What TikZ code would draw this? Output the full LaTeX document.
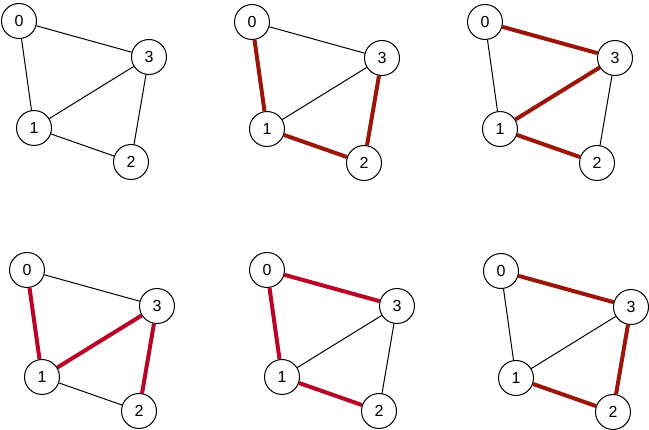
\documentclass[tikz,border=0pt]{standalone}
\usepackage{fontspec}
\setmainfont{Liberation Sans}
\usepackage{tikz}
\usetikzlibrary{positioning,calc}
\definecolor{pathred}{RGB}{155,22,8}
\definecolor{pathcrimson}{RGB}{185,4,38}
\tikzset{
    vertex/.style={circle, draw=black, fill=white, line width=1pt, minimum size=35pt, inner sep=0pt, font=\fontsize{16}{18}\selectfont},
    edge/.style={line width=1pt, black},
    redge/.style={line width=4pt, pathred},
    cedge/.style={line width=4pt, pathcrimson},
}
\begin{document}
\begin{tikzpicture}[x=1pt, y=-1pt]
    \useasboundingbox (0,0) rectangle (649,430);
    \foreach \p/\ox/\oy in {a/19/21, b/252/22, c/485/22, d/27/270, e/267/270, f/501/271} {
        \begin{scope}[shift={(\ox,\oy)}]
            \node[vertex] (\p0) at (0,0) {0};
            \node[vertex] (\p3) at (130,36) {3};
            \node[vertex] (\p1) at (15,107) {1};
            \node[vertex] (\p2) at (112,141) {2};
        \end{scope}
    }
    % Graph edges
    \foreach \p in {a,b,c,d,e,f} {
        \draw[edge] (\p0) -- (\p3);
        \draw[edge] (\p0) -- (\p1);
        \draw[edge] (\p1) -- (\p3);
        \draw[edge] (\p1) -- (\p2);
        \draw[edge] (\p2) -- (\p3);
    }
    % Highlighted paths, top row
    \draw[redge] (b0) -- (b1);
    \draw[redge] (b1) -- (b2);
    \draw[redge] (b2) -- (b3);
    \draw[redge] (c0) -- (c3);
    \draw[redge] (c3) -- (c1);
    \draw[redge] (c1) -- (c2);
    % Highlighted paths, bottom row
    \draw[cedge] (d0) -- (d1);
    \draw[cedge] (d1) -- (d3);
    \draw[cedge] (d3) -- (d2);
    \draw[cedge] (e3) -- (e0);
    \draw[cedge] (e0) -- (e1);
    \draw[cedge] (e1) -- (e2);
    \draw[redge] (f0) -- (f3);
    \draw[redge] (f3) -- (f2);
    \draw[redge] (f2) -- (f1);
\end{tikzpicture}
\end{document}
